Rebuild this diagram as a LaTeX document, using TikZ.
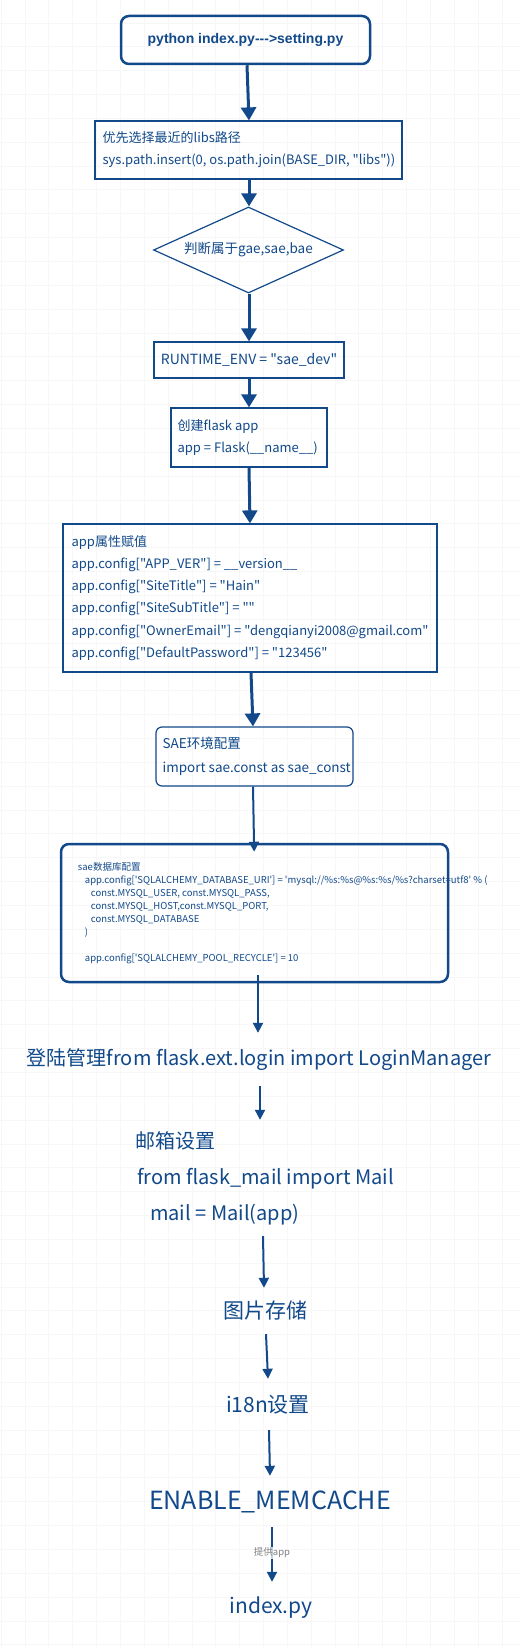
\documentclass[tikz,border=0pt]{standalone}
\usepackage{fontspec}
\newfontfamily\cjkf{Noto Sans CJK SC}
\newfontfamily\helv{Liberation Sans}
\usetikzlibrary{arrows.meta,shapes.geometric}
\definecolor{ink}{RGB}{17,73,138}
\begin{document}
\begin{tikzpicture}[x=1pt,y=-1pt,
  every node/.style={text=ink},
  box/.style={draw=ink, line width=1.2pt, inner sep=0pt},
  txt/.style={align=left, inner sep=0pt, font=\cjkf\fontsize{13}{22}\selectfont},
  bigtext/.style={inner sep=0pt, font=\cjkf\fontsize{20}{36}\selectfont},
  arrowbig/.style={draw=ink, line width=3pt, -{Triangle[width=15pt,length=13pt]}},
  arrowsm/.style={draw=ink, line width=2pt, -{Triangle[width=10pt,length=10pt]}},
]
\useasboundingbox (0,0) rectangle (520,1648);
\fill[white] (0,0) rectangle (520,1648);
\foreach \i in {0,...,22} \draw[black!3, line width=0.6pt] (1+\i*23.85,0) -- (1+\i*23.85,1648);
\foreach \i in {0,...,69} \draw[black!3, line width=0.6pt] (0,-1+\i*23.85) -- (520,-1+\i*23.85);

% boxes
\node[box, rounded corners=8pt, line width=2.5pt, minimum width=249pt, minimum height=48pt,
      font=\helv\bfseries\fontsize{14}{16}\selectfont] (start) at (245.5,40)
      {python index.py-\kern0pt-\kern0pt->setting.py};

\node[box, minimum width=307pt, minimum height=58pt] (libs) at (248.5,150) {};
\node[txt, anchor=west] (libsT) at ([xshift=8pt]libs.west)
  {优先选择最近的libs路径\\sys.path.insert(0, os.path.join(BASE\_DIR, "libs"))};

\node[diamond, draw=ink, line width=1.2pt, aspect=2.2, minimum width=190pt, minimum height=86pt,
      inner sep=0pt, font=\cjkf\fontsize{13.5}{16}\selectfont] (env) at (248.5,250) {判断属于gae,sae,bae};

\node[box, minimum width=190pt, minimum height=36pt, font=\cjkf\fontsize{14}{16}\selectfont] (rt) at (249,360)
  {RUNTIME\_ENV = "sae\_dev"};

\node[box, minimum width=156pt, minimum height=59pt] (flask) at (249,437.5) {};
\node[txt, anchor=west] (flaskT) at ([xshift=7pt]flask.west)
  {创建flask app\\app = Flask(\_\_name\_\_)};

\node[box, minimum width=374pt, minimum height=148pt] (cfg) at (250,598) {};
\node[txt, anchor=west, font=\cjkf\fontsize{13}{22.2}\selectfont] (cfgT) at ([xshift=9pt]cfg.west)
  {app属性赋值\\
   app.config["APP\_VER"] = \_\_version\_\_\\
   app.config["SiteTitle"] = "Hain"\\
   app.config["SiteSubTitle"] = ""\\
   app.config["OwnerEmail"] = "dengqianyi2008@gmail.com"\\
   app.config["DefaultPassword"] = "123456"};

\node[box, rounded corners=6pt, minimum width=197pt, minimum height=59pt] (sae) at (254.5,756.5) {};
\node[txt, anchor=west, font=\cjkf\fontsize{13.5}{24}\selectfont] (saeT) at ([xshift=7pt]sae.west)
  {SAE环境配置\\import sae.const as sae\_const};

\node[box, rounded corners=8pt, line width=2.5pt, minimum width=387pt, minimum height=138pt] (db) at (254.5,913) {};
\node[txt, anchor=west, font=\cjkf\fontsize{9.5}{13}\selectfont] (dbT) at ([xshift=18pt]db.west)
  {sae数据库配置\\
   \hspace*{7pt}app.config['SQLALCHEMY\_DATABASE\_URI'] = 'mysql://\%s:\%s@\%s:\%s/\%s?charset=utf8' \% (\\
   \hspace*{13pt}const.MYSQL\_USER, const.MYSQL\_PASS,\\
   \hspace*{13pt}const.MYSQL\_HOST,const.MYSQL\_PORT,\\
   \hspace*{13pt}const.MYSQL\_DATABASE\\
   \hspace*{7pt})\\[13pt]
   \hspace*{7pt}app.config['SQLALCHEMY\_POOL\_RECYCLE'] = 10};

% free texts
\node[bigtext, minimum height=53pt] (login) at (259,1059.5) {登陆管理from flask.ext.login import LoginManager};
\node[bigtext, align=left, anchor=west, minimum height=116pt] (mail) at (135,1178)
  {邮箱设置\\\hspace*{2pt}from flask\_mail import Mail\\\hspace*{15pt}mail = Mail(app)};
\node[bigtext, font=\cjkf\fontsize{21}{24}\selectfont, minimum height=46pt] (pic) at (265,1311) {图片存储};
\node[bigtext, font=\cjkf\fontsize{21}{24}\selectfont, minimum height=51pt] (i18n) at (268,1404.5) {i18n设置};
\node[bigtext, font=\cjkf\fontsize{25}{28}\selectfont, minimum height=51pt] (mem) at (270,1501.5) {ENABLE\_MEMCACHE};
\node[bigtext, font=\cjkf\fontsize{21}{24}\selectfont, minimum height=52pt] (idx) at (271,1608) {index.py};

% connectors
\draw[arrowbig] (start.south -| 247,0) -- (libs.north -| 249,0);
\draw[arrowbig] (libs.south -| 249,0) -- (env.north -| 249,0);
\draw[arrowbig] (env.south -| 249,0) -- (rt.north -| 249,0);
\draw[arrowbig] (rt.south -| 249,0) -- (flask.north -| 249,0);
\draw[arrowbig] (flask.south -| 249,0) -- (cfg.north -| 250,0);
\draw[arrowbig] (cfg.south -| 251,0) -- (sae.north -| 253,0);
\draw[arrowsm, shorten >=-9pt] (sae.south -| 253,0) -- (db.north -| 254,0);
\draw[arrowsm, shorten <=-8pt] (db.south -| 258,0) -- (login.north -| 258,0);
\draw[arrowsm] (login.south -| 260,0) -- (mail.north -| 260,0);
\draw[arrowsm] (mail.south -| 263,0) -- (pic.north -| 264,0);
\draw[arrowsm] (pic.south -| 266,0) -- (i18n.north -| 268,0);
\draw[arrowsm] (i18n.south -| 269,0) -- (mem.north -| 270,0);
\draw[arrowsm] (mem.south -| 272,0) -- node[pos=0.47, font=\cjkf\fontsize{9.5}{11}\selectfont, text=black!50,
   fill=white, fill opacity=0.75, text opacity=1, inner sep=1pt] (lbl) {提供app} (idx.north -| 272,0);
\end{tikzpicture}
\end{document}
